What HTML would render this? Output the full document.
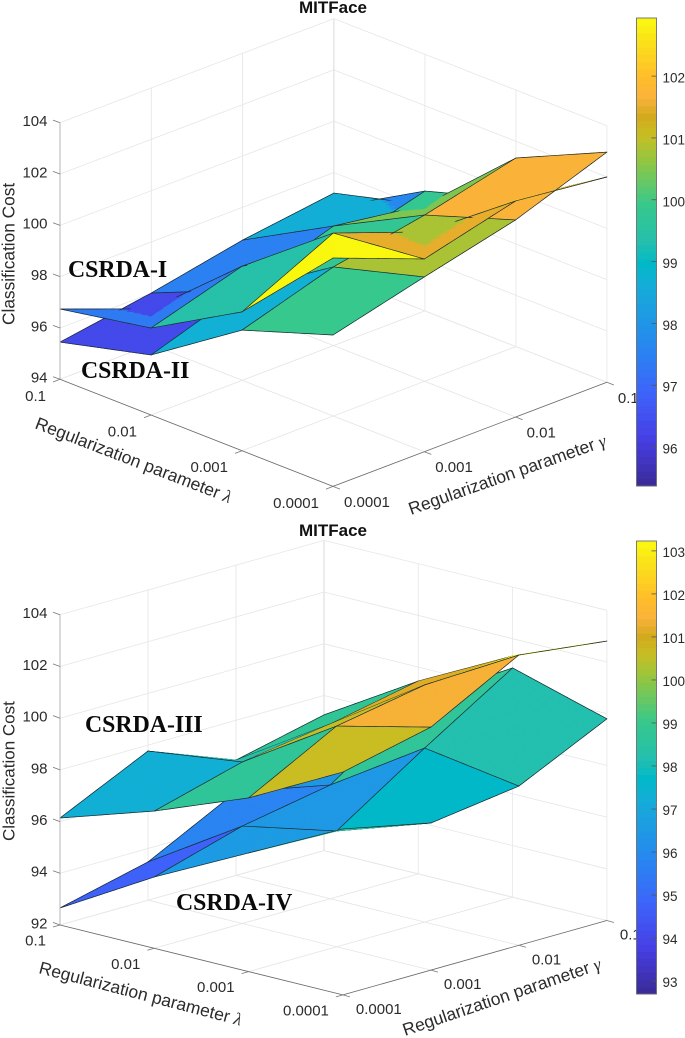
<!DOCTYPE html>
<html lang="en">
<head>
<meta charset="utf-8">
<title>MITFace classification cost surfaces</title>
<style>
html,body{margin:0;padding:0;background:#fff;}
svg{display:block;}
text{font-family:"Liberation Sans",sans-serif;fill:#2b2b2b;}
.ann{font-family:"Liberation Serif",serif;font-weight:bold;font-size:23.8px;fill:#0a0a0a;}
.ttl{font-weight:bold;font-size:17px;fill:#111;}
.axt{font-size:17.5px;fill:#2b2b2b;}
.sym{font-family:"Liberation Serif",serif;font-style:italic;}
</style>
</head>
<body>
<svg id="root" xmlns="http://www.w3.org/2000/svg" width="685" height="1038" viewBox="0 0 685 1038">
  <rect width="685" height="1038" fill="#fff"/>
  <g id="chart-top"></g>
  <g id="chart-bottom"></g>

  <text class="ttl" x="333" y="13" text-anchor="middle">MITFace</text>
  <text class="axt" transform="translate(14.5,325) rotate(-90)" style="font-size:17.3px">Classification Cost</text>
  <text class="axt" transform="translate(34,428) rotate(21.1)">Regularization parameter <tspan class="sym">λ</tspan></text>
  <text class="axt" transform="translate(411,515) rotate(-19.5)">Regularization parameter <tspan class="sym">γ</tspan></text>
  <text class="ann" x="68" y="277">CSRDA-I</text>
  <text class="ann" x="81" y="378">CSRDA-II</text>

  <text class="ttl" x="333" y="536" text-anchor="middle">MITFace</text>
  <text class="axt" transform="translate(14.5,841) rotate(-90)" style="font-size:17px">Classification Cost</text>
  <text class="axt" transform="translate(38,973) rotate(14.6)">Regularization parameter <tspan class="sym">λ</tspan></text>
  <text class="axt" transform="translate(405,1036) rotate(-18.8)">Regularization parameter <tspan class="sym">γ</tspan></text>
  <text class="ann" x="85" y="732">CSRDA-III</text>
  <text class="ann" x="176" y="910">CSRDA-IV</text>
</svg>
<script>
// ---- chart data ----
const lambdaTicks = ['0.1', '0.01', '0.001', '0.0001'];
const gammaTicks = ['0.0001', '0.001', '0.01', '0.1'];
const topZTicks = [94, 96, 98, 100, 102, 104];
const bottomZTicks = [92, 94, 96, 98, 100, 102, 104];
const topColorTicks = [96, 97, 98, 99, 100, 101, 102];
const bottomColorTicks = [93, 94, 95, 96, 97, 98, 99, 100, 101, 102, 103];

// rows: lambda 0.1 -> 0.0001, columns: gamma 0.0001 -> 0.1
const csrdaI = [
  [96.74, 95.39, 95.55, 96.66],
  [97.39, 98.45, 97.69, 98.67],
  [99.41, 101.13, 99.82, 99.75],
  [102.90, 101.51, 102.42, 102.00]
];
const csrdaII = [
  [95.45, 96.01, 96.72, 97.20],
  [96.34, 97.52, 98.66, 98.13],
  [98.70, 99.81, 100.48, 101.35],
  [99.90, 100.81, 101.68, 102.97]
];
const csrdaIII = [
  [96.14, 97.77, 96.46, 97.25],
  [97.31, 98.25, 98.76, 99.46],
  [98.72, 100.54, 101.17, 101.33],
  [100.62, 101.40, 103.23, 102.81]
];
const csrdaIV = [
  [92.66, 93.48, 95.23, 95.12],
  [94.76, 95.77, 96.40, 98.73],
  [96.59, 96.48, 98.73, 100.87],
  [98.42, 97.69, 98.16, 99.80]
];

// ---- colour map (parula-like) ----
const parulaT = [0, .1, .2, .3, .44, .475, .52, .6, .7, .75, .79, .83, .88, .95, 1];
const parulaR = [58, 70, 62, 40, 18, 0, 36, 55, 150, 200, 210, 250, 255, 250, 250];
const parulaG = [42, 62, 100, 135, 176, 184, 191, 200, 198, 190, 170, 178, 192, 225, 250];
const parulaB = [150, 228, 250, 240, 213, 200, 174, 140, 62, 35, 30, 58, 40, 25, 15];

function colorAt(t) {
  t = Math.max(0, Math.min(1, t));
  let k = 0;
  while (k < parulaT.length - 2 && t > parulaT[k + 1]) k++;
  const f = (t - parulaT[k]) / (parulaT[k + 1] - parulaT[k]);
  const mix = a => Math.round(a[k] + (a[k + 1] - a[k]) * f);
  return 'rgb(' + mix(parulaR) + ',' + mix(parulaG) + ',' + mix(parulaB) + ')';
}

const NS = 'http://www.w3.org/2000/svg';
function make(tag, parent, attrs) {
  const el = document.createElementNS(NS, tag);
  for (const k in attrs) el.setAttribute(k, attrs[k]);
  parent.appendChild(el);
  return el;
}

function drawChart(group, cfg, surfaces, zTicks, colorTicks) {
  // axis functions
  const X = (i, j) => cfg.ox + cfg.ix * i + cfg.jx * j;
  const Y = (i, j, z) => cfg.oy + cfg.iy * i + cfg.jy * j - (z - cfg.zMin) * cfg.zScale;
  const zTop = cfg.zMax;
  const zBot = cfg.zMin;

  function gridLine(x1, y1, x2, y2, stroke, width, name) {
    const el = make('line', group, {x1: x1, y1: y1, x2: x2, y2: y2, stroke: stroke, 'stroke-width': width});
    
    
    return el;
  }

  // floor grid
  for (let k = 0; k < 4; k++) {
    gridLine(X(k, 0), Y(k, 0, zBot), X(k, 3), Y(k, 3, zBot), '#e4e4e4', .8, 'floor-grid-lambda');
    gridLine(X(0, k), Y(0, k, zBot), X(3, k), Y(3, k, zBot), '#e4e4e4', .8, 'floor-grid-gamma');
  }
  // wall grid: verticals
  for (let k = 1; k < 4; k++) {
    gridLine(X(0, k), Y(0, k, zBot), X(0, k), Y(0, k, zTop), k === 3 ? '#d6d6d6' : '#e6e6e6', .9, 'wall-grid-vertical');
    gridLine(X(k, 3), Y(k, 3, zBot), X(k, 3), Y(k, 3, zTop), '#e9e9e9', .9, 'wall-grid-vertical');
  }
  // wall grid: horizontals
  zTicks.forEach(function (z) {
    gridLine(X(0, 0), Y(0, 0, z), X(0, 3), Y(0, 3, z), '#e6e6e6', .8, 'wall-grid-z');
    gridLine(X(0, 3), Y(0, 3, z), X(3, 3), Y(3, 3, z), '#e6e6e6', .8, 'wall-grid-z');
  });

  // surface meshes: each face is two planar triangles split along its anti-diagonal,
  // sub-divided and depth-sorted back to front together with the edge segments
  const N = 12;
  const items = [];
  const pt = (Z, u, v, fi, fj) => {
    const a = u - fi, b = v - fj;
    const z = (a + b <= 1 + 1e-9)
      ? Z[fi][fj] + a * (Z[fi + 1][fj] - Z[fi][fj]) + b * (Z[fi][fj + 1] - Z[fi][fj])
      : Z[fi + 1][fj + 1] + (1 - a) * (Z[fi][fj + 1] - Z[fi + 1][fj + 1]) + (1 - b) * (Z[fi + 1][fj] - Z[fi + 1][fj + 1]);
    return [X(u, v), Y(u, v, z)];
  };

  surfaces.forEach(function (Z) {
    for (let fi = 0; fi < 3; fi++) {
      for (let fj = 0; fj < 3; fj++) {
        const fill = colorAt((Z[fi + 1][fj] - cfg.cMin) / (cfg.cMax - cfg.cMin));
        for (let a = 0; a < N; a++) {
          for (let b = 0; b < N; b++) {
            const u0 = fi + a / N, u1 = fi + (a + 1) / N, v0 = fj + b / N, v1 = fj + (b + 1) / N;
            const p00 = pt(Z, u0, v0, fi, fj), p10 = pt(Z, u1, v0, fi, fj);
            const p01 = pt(Z, u0, v1, fi, fj), p11 = pt(Z, u1, v1, fi, fj);
            items.push({key: (u0 * 2 + u1) / 3 - (v0 * 2 + v1) / 3, fill: fill, pts: [p00, p10, p01]});
            items.push({key: (u0 + u1 * 2) / 3 - (v0 + v1 * 2) / 3, fill: fill, pts: [p11, p01, p10]});
          }
        }
      }
    }
    for (let p = 0; p < 4; p++) {
      for (let s = 0; s < 3 * N; s++) {
        const q0 = s / N, q1 = (s + 1) / N;
        const fixedFace = Math.min(p, 2);
        const movingFace = Math.min(2, Math.floor(s / N));
        items.push({key: (q0 + q1) / 2 - p + .18, line: [pt(Z, q0, p, movingFace, fixedFace), pt(Z, q1, p, movingFace, fixedFace)]});
        items.push({key: p - (q0 + q1) / 2 + .18, line: [pt(Z, p, q0, fixedFace, movingFace), pt(Z, p, q1, fixedFace, movingFace)]});
      }
    }
  });
  items.sort((a, b) => a.key - b.key);

  const meshGroup = make('g', group, {});
  
  
  items.forEach(function (it) {
    if (it.line) {
      const seg = make('line', meshGroup, {
        x1: it.line[0][0].toFixed(2), y1: it.line[0][1].toFixed(2),
        x2: it.line[1][0].toFixed(2), y2: it.line[1][1].toFixed(2),
        stroke: '#1c2a30', 'stroke-width': .7, 'stroke-linecap': 'round'
      });
      
      
    } else {
      const cell = make('polygon', meshGroup, {
        points: it.pts.map(p => p[0].toFixed(2) + ',' + p[1].toFixed(2)).join(' '),
        fill: it.fill, stroke: it.fill, 'stroke-width': .6, 'stroke-linejoin': 'round'
      });
      
      
    }
  });

  // axes
  gridLine(X(0, 0), Y(0, 0, zBot), X(0, 0), Y(0, 0, zTop), '#b4b4b4', 1, 'z-axis-line');
  gridLine(X(0, 0), Y(0, 0, zBot), X(3, 0), Y(3, 0, zBot), '#6a6a6a', .8, 'lambda-axis-line');
  gridLine(X(3, 0), Y(3, 0, zBot), X(3, 3), Y(3, 3, zBot), '#6a6a6a', .8, 'gamma-axis-line');

  function tickLabel(str, x, y, anchor, size, name) {
    const t = make('text', group, {x: x, y: y, 'text-anchor': anchor, 'font-size': size});
    t.textContent = str;
    
    
  }

  zTicks.forEach(function (z) {
    const y = Y(0, 0, z);
    gridLine(53, y - 2.6, 60, y, '#777', .8, 'z-tick');
    tickLabel(String(z), 47.5, y + cfg.zLabelDy, 'end', 15, 'z-tick-label');
  });
  lambdaTicks.forEach(function (label, k) {
    const x = X(k, 0), y = Y(k, 0, zBot);
    gridLine(x, y, x - 7, y + cfg.lambdaTickDy, '#777', .8, 'lambda-tick');
    tickLabel(label, x + cfg.lambdaLabelDx, y + cfg.lambdaLabelDy, 'end', 15, 'lambda-tick-label');
  });
  gammaTicks.forEach(function (label, k) {
    const x = X(3, k), y = Y(3, k, zBot);
    gridLine(x, y, x + 7, y + cfg.gammaTickDy, '#777', .8, 'gamma-tick');
    tickLabel(label, x + cfg.gammaLabelDx, y + cfg.gammaLabelDy, 'start', 15, 'gamma-tick-label');
  });

  // colour bar
  const CY = v => cfg.barBottom - (v - cfg.cMin) / (cfg.cMax - cfg.cMin) * (cfg.barBottom - cfg.barTop);
  const bar = make('g', group, {});
  
  
  const steps = 64;
  for (let s = 0; s < steps; s++) {
    const v0 = cfg.cMin + (cfg.cMax - cfg.cMin) * s / steps;
    const v1 = cfg.cMin + (cfg.cMax - cfg.cMin) * (s + 1) / steps;
    const swatch = make('rect', bar, {
      x: 636.5, y: CY(v1).toFixed(2), width: 20, height: (CY(v0) - CY(v1) + .5).toFixed(2),
      fill: colorAt((s + .5) / steps)
    });
    
    
  }
  const frame = make('rect', bar, {
    x: 636.5, y: cfg.barTop, width: 20, height: cfg.barBottom - cfg.barTop,
    fill: 'none', stroke: '#6e6e6e', 'stroke-width': .9
  });
  
  
  colorTicks.forEach(function (v) {
    const y = CY(v);
    gridLine(651.5, y, 656.5, y, '#555', .8, 'colorbar-tick');
    tickLabel(String(v), 662.5, y + cfg.barLabelDy, 'start', 13.5, 'colorbar-tick-label');
  });
}

drawChart(document.getElementById('chart-top'), {
  ox: 60, oy: 379.3, ix: 91, iy: 35.7, jx: 91.3, jy: -34.7,
  zMin: 94, zMax: 104, zScale: 25.66, cMin: 95.37, cMax: 102.94,
  barTop: 18, barBottom: 486, barLabelDy: 6.5, zLabelDy: 3.4,
  lambdaTickDy: 2.7, gammaTickDy: 2.7,
  lambdaLabelDx: -14, lambdaLabelDy: 21.5, gammaLabelDx: 11, gammaLabelDy: 20.5
}, [csrdaI, csrdaII], topZTicks, topColorTicks);

drawChart(document.getElementById('chart-bottom'), {
  ox: 60, oy: 925, ix: 94.3, iy: 23.3, jx: 88, jy: -24.8,
  zMin: 92, zMax: 104, zScale: 25.85, cMin: 92.7, cMax: 103.23,
  barTop: 541, barBottom: 994, barLabelDy: 6, zLabelDy: 3.4,
  lambdaTickDy: 2, gammaTickDy: 2,
  lambdaLabelDx: -14, lambdaLabelDy: 20.5, gammaLabelDx: 13, gammaLabelDy: 19
}, [csrdaIII, csrdaIV], bottomZTicks, bottomColorTicks);
</script>
</body>
</html>
